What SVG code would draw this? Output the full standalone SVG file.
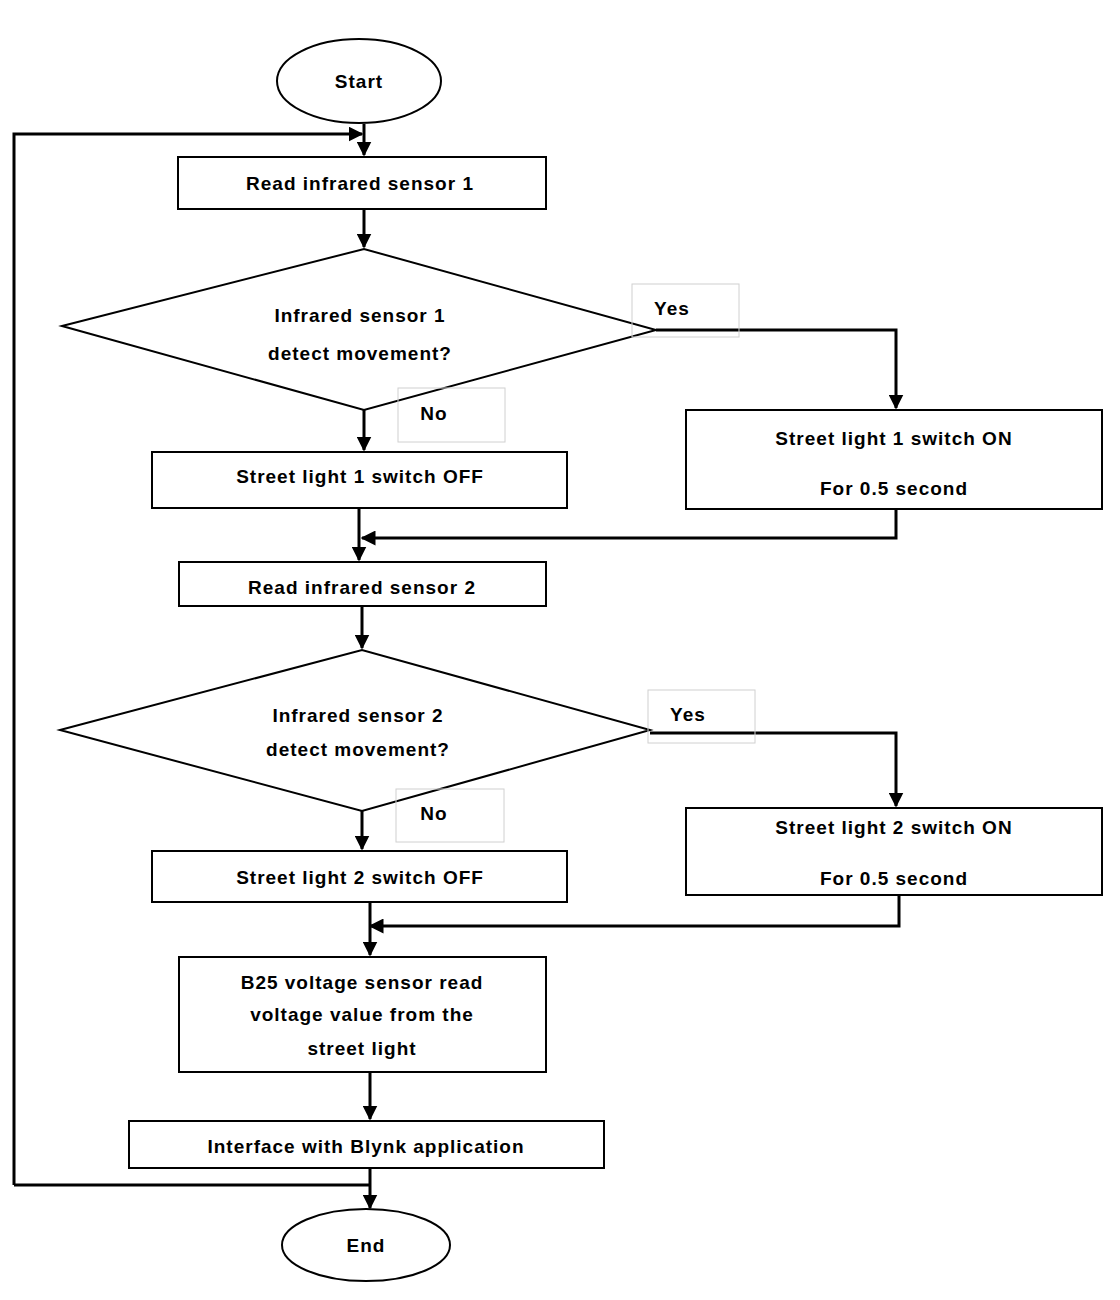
<svg xmlns="http://www.w3.org/2000/svg" width="1120" height="1300" viewBox="0 0 1120 1300">
<style>
.n{fill:#fff;stroke:#000;stroke-width:2}
.l{fill:none;stroke:#d0d0d0;stroke-width:1}
text{font-family:"Liberation Sans",Arial,sans-serif;font-size:19px;font-weight:bold;text-anchor:middle;letter-spacing:1px;fill:#000}
.c{fill:none;stroke:#000;stroke-width:3;marker-end:url(#a)}
.p{fill:none;stroke:#000;stroke-width:3}
</style>
<defs><marker id="a" markerWidth="5" markerHeight="5" refX="4.5" refY="2.5" orient="auto" markerUnits="strokeWidth"><path d="M0,0L5,2.5L0,5z" fill="#000"/></marker></defs>
<rect width="1120" height="1300" fill="#fff"/>
<g id="connectors">
<path class="c" d="M364,124V155"/>
<path class="c" d="M14,1185V134H362"/>
<path class="c" d="M364,209V247"/>
<path class="c" d="M656,330H896V408"/>
<path class="c" d="M364,410V450"/>
<path class="c" d="M359,508V560"/>
<path class="c" d="M896,509V538H362"/>
<path class="c" d="M362,606V648"/>
<path class="c" d="M650,733H896V806"/>
<path class="c" d="M362,811V849"/>
<path class="c" d="M370,902V955"/>
<path class="c" d="M899,895V926H370"/>
<path class="c" d="M370,1072V1119"/>
<path class="p" d="M14,1185H370"/>
<path class="c" d="M370,1168V1208"/>
</g>
<g id="start"><ellipse class="n" cx="359" cy="81" rx="82" ry="42"/><text x="359" y="88">Start</text></g>
<g id="read1"><rect class="n" x="178" y="157" width="368" height="52"/><text x="360" y="190">Read infrared sensor 1</text></g>
<g id="dec1"><path class="n" d="M62,326L364,249L656,330L364,410Z"/><text x="360" y="322">Infrared sensor 1</text><text x="360" y="360">detect movement?</text></g>
<g id="yes1"><rect class="l" x="632" y="284" width="107" height="53"/><text x="672" y="315">Yes</text></g>
<g id="no1"><rect class="l" x="398" y="388" width="107" height="54"/><text x="434" y="420">No</text></g>
<g id="on1"><rect class="n" x="686" y="410" width="416" height="99"/><text x="894" y="445">Street light 1 switch ON</text><text x="894" y="495">For 0.5 second</text></g>
<g id="off1"><rect class="n" x="152" y="452" width="415" height="56"/><text x="360" y="483">Street light 1 switch OFF</text></g>
<g id="read2"><rect class="n" x="179" y="562" width="367" height="44"/><text x="362" y="594">Read infrared sensor 2</text></g>
<g id="dec2"><path class="n" d="M60,730L362,650L650,730L362,811Z"/><text x="358" y="722">Infrared sensor 2</text><text x="358" y="756">detect movement?</text></g>
<g id="yes2"><rect class="l" x="648" y="690" width="107" height="53"/><text x="688" y="721">Yes</text></g>
<g id="no2"><rect class="l" x="396" y="789" width="108" height="53"/><text x="434" y="820">No</text></g>
<g id="on2"><rect class="n" x="686" y="808" width="416" height="87"/><text x="894" y="834">Street light 2 switch ON</text><text x="894" y="885">For 0.5 second</text></g>
<g id="off2"><rect class="n" x="152" y="851" width="415" height="51"/><text x="360" y="884">Street light 2 switch OFF</text></g>
<g id="b25"><rect class="n" x="179" y="957" width="367" height="115"/><text x="362" y="989">B25 voltage sensor read</text><text x="362" y="1021">voltage value from the</text><text x="362" y="1055">street light</text></g>
<g id="blynk"><rect class="n" x="129" y="1121" width="475" height="47"/><text x="366" y="1153">Interface with Blynk application</text></g>
<g id="end"><ellipse class="n" cx="366" cy="1245" rx="84" ry="36"/><text x="366" y="1252">End</text></g>
</svg>
